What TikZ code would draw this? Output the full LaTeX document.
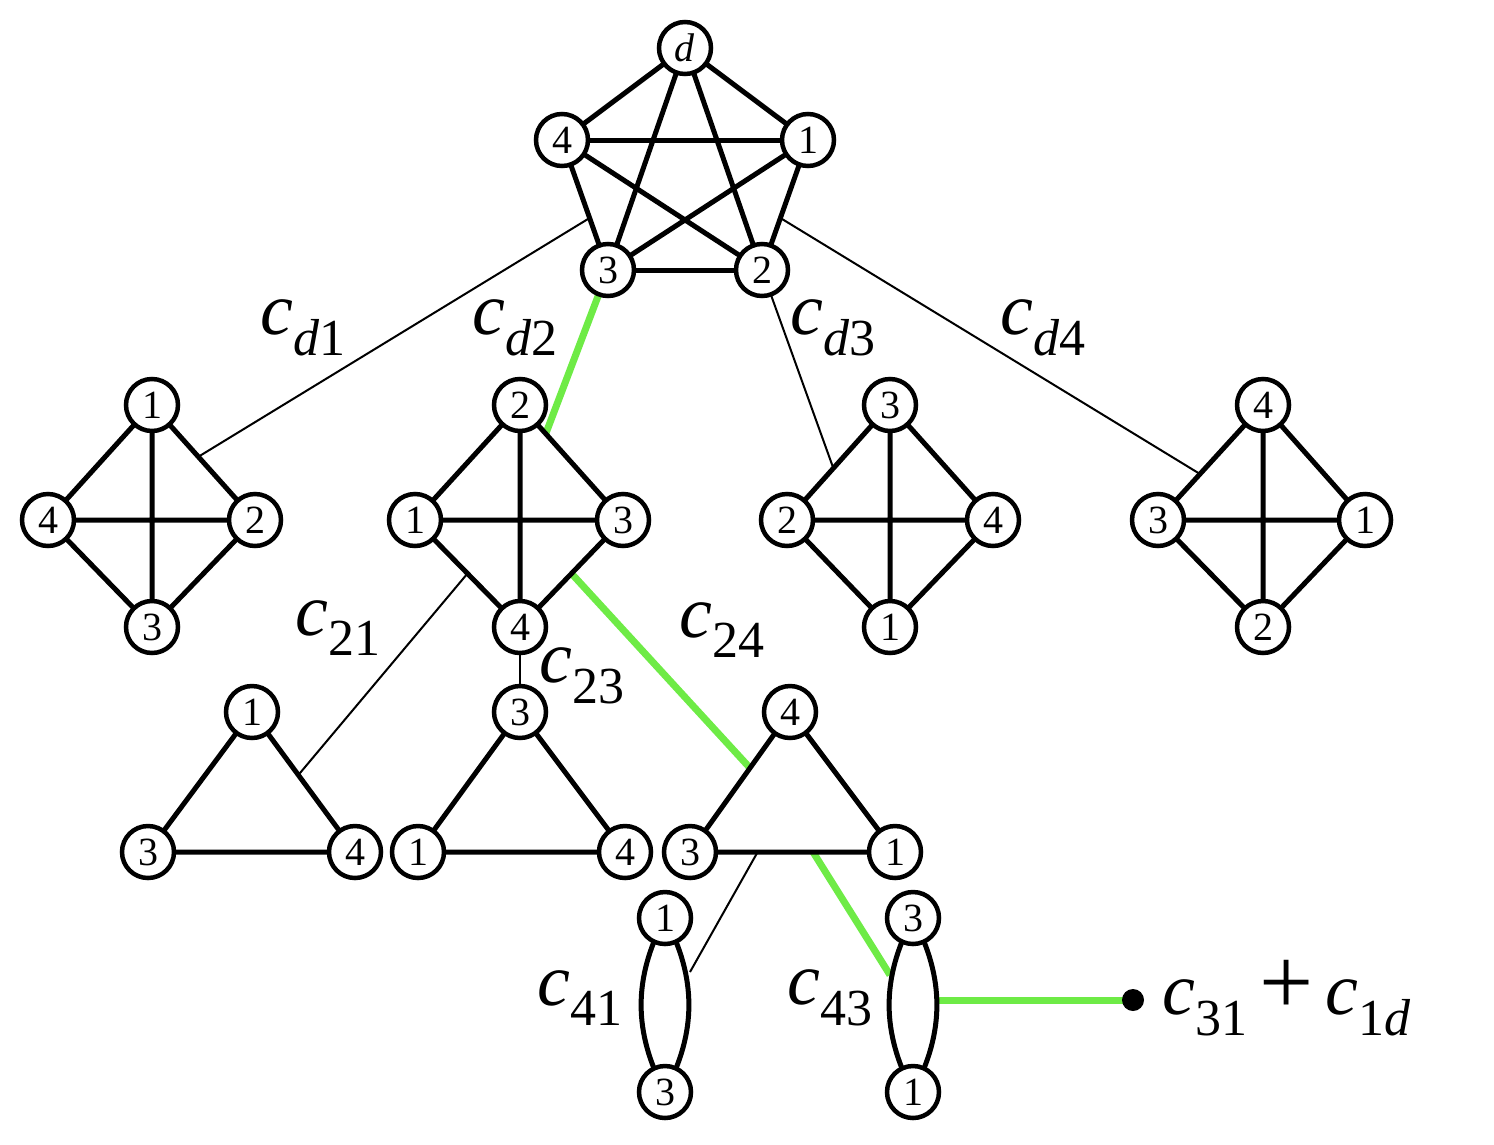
\documentclass[tikz,border=0pt]{standalone}
\usepackage{fontspec}
\setmainfont{Liberation Serif}
\usetikzlibrary{calc}
\newcommand{\cl}[1]{\textit{c}\raisebox{-0.28em}{\fontsize{52}{52}\selectfont #1}}
\begin{document}
\begin{tikzpicture}[x=1pt,y=-1pt,
 v/.style={circle,draw,line width=4.5pt,fill=white,minimum size=52pt,inner sep=0pt,font=\fontsize{40}{40}\selectfont},
 e/.style={line width=5pt},
 thin/.style={line width=2pt},
 grn/.style={line width=7pt,draw={rgb,255:red,110;green,235;blue,70}},
 lab/.style={font=\fontsize{74}{74}\selectfont,inner sep=0pt}]
\useasboundingbox (0,0) rectangle (1494,1144);
% pentagon
\coordinate (pd) at (685,48); \coordinate (p4) at (562,140); \coordinate (p1) at (808,140);
\coordinate (p3) at (608,270); \coordinate (p2) at (762,270);
% K4s
\coordinate (a1) at (152,405); \coordinate (a4) at (48,520); \coordinate (a2) at (255,520); \coordinate (a3) at (152,627);
\coordinate (b2) at (520,405); \coordinate (b1) at (415,520); \coordinate (b3) at (623,520); \coordinate (b4) at (520,627);
\coordinate (c3) at (890,405); \coordinate (c2) at (787,520); \coordinate (c4) at (993,520); \coordinate (c1) at (890,627);
\coordinate (d4) at (1263,405); \coordinate (d3) at (1158,520); \coordinate (d1) at (1365,520); \coordinate (d2) at (1263,627);
% triangles
\coordinate (s1) at (252,712); \coordinate (s3) at (148,852); \coordinate (s4) at (355,852);
\coordinate (t3) at (520,712); \coordinate (t1) at (418,852); \coordinate (t4) at (625,852);
\coordinate (u4) at (790,712); \coordinate (u3) at (690,852); \coordinate (u1) at (895,852);
% pairs
\coordinate (q1) at (665,918); \coordinate (q3) at (665,1092);
\coordinate (r3) at (913,918); \coordinate (r1) at (913,1092);
\coordinate (dot) at (1133,1000);
% connectors
\draw[thin] ($(p4)!0.6!(p3)$) -- ($(a1)!0.45!(a2)$);
\draw[grn] (p3) -- ($(b2)!0.25!(b3)$);
\draw[thin] (p2) -- ($(c3)!0.55!(c2)$);
\draw[thin] ($(p1)!0.6!(p2)$) -- ($(d4)!0.6!(d3)$);
\draw[thin] ($(b1)!0.5!(b4)$) -- ($(s1)!0.45!(s4)$);
\draw[thin] (b4) -- (t3);
\draw[grn] ($(b3)!0.5!(b4)$) -- ($(u4)!0.4!(u3)$);
\draw[thin] ($(u3)!0.33!(u1)$) -- (690,972);
\draw[grn] ($(u3)!0.6!(u1)$) -- (890,975);
\draw[grn] (937,1000) -- (dot);
\fill (dot) circle (11pt);
% edges
\foreach \x/\y in {pd/p4,pd/p1,pd/p3,pd/p2,p4/p1,p4/p3,p4/p2,p1/p3,p1/p2,p3/p2}
  \draw[e] (\x) -- (\y);
\foreach \k in {a,b,c,d}{
 \draw[e] (\k1)--(\k2)--(\k3)--(\k4)--cycle (\k1)--(\k3) (\k2)--(\k4);}
\draw[e] (s1)--(s3)--(s4)--cycle (t3)--(t1)--(t4)--cycle (u4)--(u3)--(u1)--cycle;
\draw[e] (q1) to[bend left=28] (q3) (q1) to[bend right=28] (q3);
\draw[e] (r3) to[bend left=28] (r1) (r3) to[bend right=28] (r1);
% vertices
\node[v] at (pd) {\textit{d}};
\foreach \c/\t in {p4/4,p1/1,p3/3,p2/2,a1/1,a4/4,a2/2,a3/3,b2/2,b1/1,b3/3,b4/4,c3/3,c2/2,c4/4,c1/1,d4/4,d3/3,d1/1,d2/2,s1/1,s3/3,s4/4,t3/3,t1/1,t4/4,u4/4,u3/3,u1/1,q1/1,q3/3,r3/3,r1/1}
  \node[v] at (\c) {\t};
% labels
\node[lab] at (303,328) {\cl{\textit{d}1}};
\node[lab] at (515,328) {\cl{\textit{d}2}};
\node[lab] at (833,328) {\cl{\textit{d}3}};
\node[lab] at (1043,328) {\cl{\textit{d}4}};
\node[lab] at (338,628) {\cl{21}};
\node[lab] at (582,676) {\cl{23}};
\node[lab] at (722,630) {\cl{24}};
\node[lab] at (580,998) {\cl{41}};
\node[lab] at (830,998) {\cl{43}};
\node[lab,anchor=west] at (1162,998) {\cl{31}\,{\fontsize{96}{96}\selectfont +}\,\cl{1\textit{d}}};
\end{tikzpicture}
\end{document}
